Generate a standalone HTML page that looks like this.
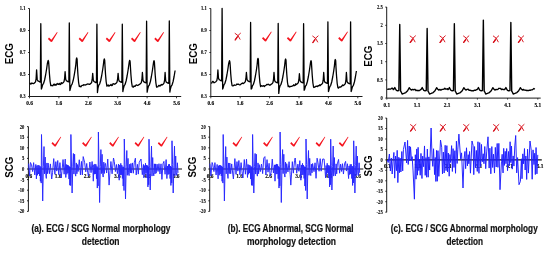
<!DOCTYPE html>
<html><head><meta charset="utf-8"><title>ECG / SCG morphology detection</title>
<style>html,body{margin:0;padding:0;background:#fff;}svg{display:block;}</style></head>
<body><svg width="550" height="253" viewBox="0 0 550 253">
<rect width="550" height="253" fill="#fff"/>
<path d="M29.5,8.5 V96.5 H181.2" fill="none" stroke="#1a1a1a" stroke-width="1"/>
<path d="M28.1,8.5 H29.5" stroke="#111" stroke-width="0.9"/>
<text x="25.5" y="10.4" text-anchor="end" font-family="Liberation Serif, serif" font-size="5.6" font-weight="bold" fill="#000" stroke="#000" stroke-width="0.1" textLength="5.74" lengthAdjust="spacingAndGlyphs">1.1</text>
<path d="M28.1,30.5 H29.5" stroke="#111" stroke-width="0.9"/>
<text x="25.5" y="32.4" text-anchor="end" font-family="Liberation Serif, serif" font-size="5.6" font-weight="bold" fill="#000" stroke="#000" stroke-width="0.1" textLength="5.74" lengthAdjust="spacingAndGlyphs">0.9</text>
<path d="M28.1,52.5 H29.5" stroke="#111" stroke-width="0.9"/>
<text x="25.5" y="54.4" text-anchor="end" font-family="Liberation Serif, serif" font-size="5.6" font-weight="bold" fill="#000" stroke="#000" stroke-width="0.1" textLength="5.74" lengthAdjust="spacingAndGlyphs">0.7</text>
<path d="M28.1,74.5 H29.5" stroke="#111" stroke-width="0.9"/>
<text x="25.5" y="76.4" text-anchor="end" font-family="Liberation Serif, serif" font-size="5.6" font-weight="bold" fill="#000" stroke="#000" stroke-width="0.1" textLength="5.74" lengthAdjust="spacingAndGlyphs">0.5</text>
<path d="M28.1,96.5 H29.5" stroke="#111" stroke-width="0.9"/>
<text x="25.5" y="98.4" text-anchor="end" font-family="Liberation Serif, serif" font-size="5.6" font-weight="bold" fill="#000" stroke="#000" stroke-width="0.1" textLength="5.74" lengthAdjust="spacingAndGlyphs">0.3</text>
<path d="M29.5,96.5 V98.3" stroke="#111" stroke-width="0.8"/>
<text x="29.5" y="104.6" text-anchor="middle" font-family="Liberation Serif, serif" font-size="5.4" font-weight="bold" fill="#000" stroke="#000" stroke-width="0.12">0.6</text>
<path d="M58.9,96.5 V98.3" stroke="#111" stroke-width="0.8"/>
<text x="58.9" y="104.6" text-anchor="middle" font-family="Liberation Serif, serif" font-size="5.4" font-weight="bold" fill="#000" stroke="#000" stroke-width="0.12">1.6</text>
<path d="M88.3,96.5 V98.3" stroke="#111" stroke-width="0.8"/>
<text x="88.3" y="104.6" text-anchor="middle" font-family="Liberation Serif, serif" font-size="5.4" font-weight="bold" fill="#000" stroke="#000" stroke-width="0.12">2.6</text>
<path d="M117.7,96.5 V98.3" stroke="#111" stroke-width="0.8"/>
<text x="117.7" y="104.6" text-anchor="middle" font-family="Liberation Serif, serif" font-size="5.4" font-weight="bold" fill="#000" stroke="#000" stroke-width="0.12">3.6</text>
<path d="M147.1,96.5 V98.3" stroke="#111" stroke-width="0.8"/>
<text x="147.1" y="104.6" text-anchor="middle" font-family="Liberation Serif, serif" font-size="5.4" font-weight="bold" fill="#000" stroke="#000" stroke-width="0.12">4.6</text>
<path d="M176.5,96.5 V98.3" stroke="#111" stroke-width="0.8"/>
<text x="176.5" y="104.6" text-anchor="middle" font-family="Liberation Serif, serif" font-size="5.4" font-weight="bold" fill="#000" stroke="#000" stroke-width="0.12">5.6</text>
<path d="M28.4,126.6 V211.4" fill="none" stroke="#1a1a1a" stroke-width="1"/>
<path d="M27,126.6 H28.4" stroke="#111" stroke-width="0.9"/>
<text x="24.4" y="128.5" text-anchor="end" font-family="Liberation Serif, serif" font-size="5.6" font-weight="bold" fill="#000" stroke="#000" stroke-width="0.1" textLength="4.59" lengthAdjust="spacingAndGlyphs">20</text>
<path d="M27,137.2 H28.4" stroke="#111" stroke-width="0.9"/>
<text x="24.4" y="139.1" text-anchor="end" font-family="Liberation Serif, serif" font-size="5.6" font-weight="bold" fill="#000" stroke="#000" stroke-width="0.1" textLength="4.59" lengthAdjust="spacingAndGlyphs">15</text>
<path d="M27,147.8 H28.4" stroke="#111" stroke-width="0.9"/>
<text x="24.4" y="149.7" text-anchor="end" font-family="Liberation Serif, serif" font-size="5.6" font-weight="bold" fill="#000" stroke="#000" stroke-width="0.1" textLength="4.59" lengthAdjust="spacingAndGlyphs">10</text>
<path d="M27,158.4 H28.4" stroke="#111" stroke-width="0.9"/>
<text x="24.4" y="160.3" text-anchor="end" font-family="Liberation Serif, serif" font-size="5.6" font-weight="bold" fill="#000" stroke="#000" stroke-width="0.1" textLength="2.3" lengthAdjust="spacingAndGlyphs">5</text>
<path d="M27,169 H28.4" stroke="#111" stroke-width="0.9"/>
<text x="24.4" y="170.9" text-anchor="end" font-family="Liberation Serif, serif" font-size="5.6" font-weight="bold" fill="#000" stroke="#000" stroke-width="0.1" textLength="2.3" lengthAdjust="spacingAndGlyphs">0</text>
<path d="M27,179.6 H28.4" stroke="#111" stroke-width="0.9"/>
<text x="24.4" y="181.5" text-anchor="end" font-family="Liberation Serif, serif" font-size="5.6" font-weight="bold" fill="#000" stroke="#000" stroke-width="0.1" textLength="3.83" lengthAdjust="spacingAndGlyphs">-5</text>
<path d="M27,190.2 H28.4" stroke="#111" stroke-width="0.9"/>
<text x="24.4" y="192.1" text-anchor="end" font-family="Liberation Serif, serif" font-size="5.6" font-weight="bold" fill="#000" stroke="#000" stroke-width="0.1" textLength="6.12" lengthAdjust="spacingAndGlyphs">-10</text>
<path d="M27,200.8 H28.4" stroke="#111" stroke-width="0.9"/>
<text x="24.4" y="202.7" text-anchor="end" font-family="Liberation Serif, serif" font-size="5.6" font-weight="bold" fill="#000" stroke="#000" stroke-width="0.1" textLength="6.12" lengthAdjust="spacingAndGlyphs">-15</text>
<path d="M27,211.4 H28.4" stroke="#111" stroke-width="0.9"/>
<text x="24.4" y="213.3" text-anchor="end" font-family="Liberation Serif, serif" font-size="5.6" font-weight="bold" fill="#000" stroke="#000" stroke-width="0.1" textLength="6.12" lengthAdjust="spacingAndGlyphs">-20</text>
<polyline points="29.8,82.74 30.5,84.03 31.2,83.87 31.9,82.96 32.6,83.39 33.3,83.7 34.6,82.9 35.5,81.8 36.1,78.8 36.6,69.8 37.2,79.4 37.8,80.8 38.6,81.2 39.5,81.8 40.35,82 40.8,23.7 41.35,89 41.9,87.7 42.7,84.7 43.6,83.3 44.6,80 45.6,75 46.6,69 47.3,64 47.8,61.7 48.2,60.4 48.6,61.7 48.9,65.5 49.4,73.5 50.1,81.5 50.8,85.7 51.5,85.46 52.2,85.67 52.9,85.76 53.6,84.36 54.3,84.09 55,85.39 55.7,84.51 56.4,84.95 57.1,83.43 57.8,84.07 58.5,84.42 59.2,83.38 59.9,84.52 60.6,84.28 61.3,82.56 61.8,83.6 63.1,82.8 64,81.7 64.6,78.7 65.1,71.7 65.7,79.3 66.3,80.7 67.1,81.1 68,81.7 68.85,81.9 69.3,22.9 69.85,90.5 70.4,88.5 71.2,85.5 72.1,84.1 73.1,80.8 74.1,75.8 75.1,69.8 75.8,64.8 76.3,59.2 76.7,57.9 77.1,59.2 77.4,66.3 77.9,74.3 78.6,82.3 79.3,86.5 79.5,85.6 80.2,86.36 80.9,86.91 81.6,85.74 82.3,85.28 83,85.48 83.7,84.61 84.4,84.79 85.1,85.01 85.8,84.95 86.5,84.31 87.2,84.14 87.9,83.95 88.6,84.22 89.4,84.4 90.7,83.6 91.6,82.5 92.2,79.5 92.7,73.3 93.3,80.1 93.9,81.5 94.7,81.9 95.6,82.5 96.45,82.7 96.9,24.2 97.45,92.5 98,88.2 98.8,85.2 99.7,83.8 100.7,80.5 101.7,75.5 102.7,69.5 103.4,64.5 103.9,60.2 104.3,58.9 104.7,60.2 105,66 105.5,74 106.2,82 106.9,86.2 107.5,85.64 108.2,84.94 108.9,86.2 109.6,85.48 110.3,85.42 111,84.39 111.7,85.63 112.4,85.18 113.1,83.63 113.8,83.8 114.5,84.29 114.8,84.1 116.1,83.3 117,82.2 117.6,79.2 118.1,73.3 118.7,79.8 119.3,81.2 120.1,81.6 121,82.2 121.85,82.4 122.3,24.2 122.85,91.5 123.4,88.7 124.2,85.7 125.1,84.3 126.1,81 127.1,76 128.1,70 128.8,65 129.3,61.6 129.7,60.3 130.1,61.6 130.4,66.5 130.9,74.5 131.6,82.5 132.3,86.7 132.7,86.94 133.4,87.1 134.1,85.92 134.8,86.41 135.5,85.88 136.2,84.97 136.9,85.23 137.6,85.52 138.3,85.21 139.1,84.6 140.4,83.8 141.3,82.7 141.9,79.7 142.4,72.5 143,80.3 143.6,81.7 144.4,82.1 145.3,82.7 146.15,82.9 146.6,21.2 147.15,92.2 147.7,89.2 148.5,86.2 149.4,84.8 150.4,81.5 151.4,76.5 152.4,70.5 153.1,65.5 153.6,62 154,60.7 154.4,62 154.7,67 155.2,75 155.9,83 156.6,87.2 157.2,86.93 157.9,86.76 158.6,85.44 159.3,85.49 160,86.17 160.7,85.15 161.4,84.4 161.8,85.1 163.1,84.3 164,83.2 164.6,80.2 165.1,72.5 165.7,80.8 166.3,82.2 167.1,82.6 168,83.2 168.85,83.4 169.3,21 169.85,92 170.4,89.2 171.2,86.2 172.1,84.8 173.1,81.5 174.1,76.5 175.1,70.5" fill="none" stroke="#000" stroke-width="1.3" stroke-linejoin="round" />
<polygon points="47.9,38.9 49,37.4 51.4,39.8 57,32.1 57.6,32.5 52.1,41.8 51,41.9" fill="#f5141e"/>
<polygon points="78.7,38.9 79.8,37.4 82.2,39.8 87.8,32.1 88.4,32.5 82.9,41.8 81.8,41.9" fill="#f5141e"/>
<polygon points="105.8,38.9 106.9,37.4 109.3,39.8 114.9,32.1 115.5,32.5 110,41.8 108.9,41.9" fill="#f5141e"/>
<polygon points="131,38.9 132.1,37.4 134.5,39.8 140.1,32.1 140.7,32.5 135.2,41.8 134.1,41.9" fill="#f5141e"/>
<polygon points="154.3,38.9 155.4,37.4 157.8,39.8 163.4,32.1 164,32.5 158.5,41.8 157.4,41.9" fill="#f5141e"/>
<path d="M28.4,169 H182" stroke="#111" stroke-width="1.1"/>
<text x="28.8" y="177.5" text-anchor="middle" font-family="Liberation Serif, serif" font-size="5.4" font-weight="bold" fill="#000" stroke="#000" stroke-width="0.12">0.6</text>
<text x="58.2" y="177.5" text-anchor="middle" font-family="Liberation Serif, serif" font-size="5.4" font-weight="bold" fill="#000" stroke="#000" stroke-width="0.12">1.6</text>
<text x="87.2" y="177.5" text-anchor="middle" font-family="Liberation Serif, serif" font-size="5.4" font-weight="bold" fill="#000" stroke="#000" stroke-width="0.12">2.6</text>
<text x="117.3" y="177.5" text-anchor="middle" font-family="Liberation Serif, serif" font-size="5.4" font-weight="bold" fill="#000" stroke="#000" stroke-width="0.12">3.6</text>
<text x="147.4" y="177.5" text-anchor="middle" font-family="Liberation Serif, serif" font-size="5.4" font-weight="bold" fill="#000" stroke="#000" stroke-width="0.12">4.6</text>
<text x="176.2" y="177.5" text-anchor="middle" font-family="Liberation Serif, serif" font-size="5.4" font-weight="bold" fill="#000" stroke="#000" stroke-width="0.12">5.6</text>
<polyline points="28.6,163.64 29.6,175.91 30.4,162.5 31.54,164.83 32.63,171.59 33.63,162.63 34.78,174.97 35.83,164.44 36.4,178.85 36.9,165.73 37.5,175.26 38,165.09 38.5,173.96 39,165.34 39.6,175.98 40,166.06 40.4,181.27 40.9,167.11 41.2,183.07 41.5,134.5 42.1,165.84 42.7,201 43.4,166.18 44,146.56 44.5,173.83 45.2,157.09 45.7,173.13 46.3,178.41 46.9,162.94 47.5,173.64 48.1,163.05 49.39,173.78 50.4,163.91 51.7,179 52.59,172.32 53.73,158.6 54.87,174.27 55.84,161.64 56.75,171.11 57.73,160.5 58.76,174.75 59.95,162.63 61.2,178 61.88,171.82 63.05,159.54 64.14,174.2 65.24,159.09 65.8,177.48 66.3,164.45 66.9,174.28 67.4,164.93 67.9,173.02 68.4,165.44 69,179.06 69.4,166.51 69.8,185.19 70.3,166.92 70.6,185.52 70.9,134.5 71.5,165.01 72.1,193 72.8,166.67 73.4,153.46 73.9,174.06 74.6,154.21 75.1,172.77 75.7,176.13 76.3,162.92 76.9,173.77 77.5,164.58 78.12,171.51 79.29,159.76 80.44,174.92 81.45,161.43 82.35,174.88 83.2,156.6 84.59,162.18 85.74,171.84 86.73,163.44 87.7,172.68 88.5,176 89.88,162.02 91.05,172.68 92.1,161.54 93.01,172.76 93.3,181.18 93.8,164.74 94.4,174.16 94.9,163.96 95.4,173.93 95.9,164.42 96.5,178.7 96.9,166.36 97.3,188.06 97.8,167.39 98.1,185.89 98.4,132 99,164.64 99.6,202.5 100.3,166.54 100.9,149.6 101.4,173.61 102.1,154.29 102.6,173.38 103.2,177.06 103.8,162.14 104.4,173.46 105,163.69 105.48,163.38 106.62,173.03 107.74,159.07 109.1,185.1 109.88,173.05 110.91,161.53 112.1,173.8 113.5,158 114.26,161.36 115.41,171.55 116.44,164.53 117.36,173.68 118.53,164 119.2,180.19 119.7,164.96 120.3,174.73 120.8,163.36 121.3,174.88 121.8,165.15 122.4,178.44 122.8,166.67 123.2,186.05 123.7,166.92 124,190.54 124.3,139 124.9,164.52 125.5,199 126.2,166.37 126.8,150.53 127.3,175.31 128,158.36 128.5,172.83 129.1,175.6 129.7,164.18 130.3,172.88 130.9,163.52 131.47,173.06 132.43,162.93 133.34,173.22 134.24,162.85 135.4,158.2 136.21,174.94 137.41,164.32 138.32,174.12 139.26,162.26 141,159 142.32,174.68 143.43,164.42 143.9,177.89 144.4,165.55 145,174.56 145.5,163.29 146,172.93 146.5,165.19 147.1,177.98 147.5,165.56 147.9,186.9 148.4,166.72 148.7,184.76 149,139.2 149.6,165.25 150.2,190 150.9,166.27 151.5,146.04 152,176.09 152.7,157.55 153.2,172.32 153.8,175.84 154.4,163.87 155,173.84 155.6,163.92 156.1,173.21 157.08,164.16 158.05,171.44 158.97,163.69 159.96,174.04 161.01,163.84 161.92,179.4 162.98,163.77 163.9,161.4 165.09,174.28 166.14,159.58 166.9,178.55 167.4,165.99 168,174.63 168.5,164.42 169,174.02 169.5,164.28 170.1,178.55 170.5,166.05 170.9,185.45 171.4,166.89 171.7,182.94 172,140.8 172.6,164.38 173.2,193 173.9,165.7 174.5,146.13 175,175.65 175.7,156.03 176.2,172.72 176.8,175.37 177.4,162.79 178,172.89" fill="none" stroke="#2626ff" stroke-width="0.95" stroke-linejoin="round" />
<polygon points="51.5,143.5 52.6,142 55,144.4 60.6,136.7 61.2,137.1 55.7,146.4 54.6,146.5" fill="#f5141e"/>
<polygon points="82.1,143.5 83.2,142 85.6,144.4 91.2,136.7 91.8,137.1 86.3,146.4 85.2,146.5" fill="#f5141e"/>
<polygon points="109.2,143.5 110.3,142 112.7,144.4 118.3,136.7 118.9,137.1 113.4,146.4 112.3,146.5" fill="#f5141e"/>
<polygon points="134.6,143.5 135.7,142 138.1,144.4 143.7,136.7 144.3,137.1 138.8,146.4 137.7,146.5" fill="#f5141e"/>
<polygon points="157.8,143.5 158.9,142 161.3,144.4 166.9,136.7 167.5,137.1 162,146.4 160.9,146.5" fill="#f5141e"/>
<text transform="translate(9.4,53.7) rotate(-90)" text-anchor="middle" dominant-baseline="central" font-family="Liberation Sans, sans-serif" font-size="10.1" font-weight="bold" fill="#000" textLength="21" lengthAdjust="spacingAndGlyphs">ECG</text>
<text transform="translate(9.6,167.3) rotate(-90)" text-anchor="middle" dominant-baseline="central" font-family="Liberation Sans, sans-serif" font-size="10.1" font-weight="bold" fill="#000" textLength="21" lengthAdjust="spacingAndGlyphs">SCG</text>
<path d="M210.8,8.5 V96.5 H362.5" fill="none" stroke="#1a1a1a" stroke-width="1"/>
<path d="M209.4,8.5 H210.8" stroke="#111" stroke-width="0.9"/>
<text x="206.8" y="10.4" text-anchor="end" font-family="Liberation Serif, serif" font-size="5.6" font-weight="bold" fill="#000" stroke="#000" stroke-width="0.1" textLength="5.74" lengthAdjust="spacingAndGlyphs">1.1</text>
<path d="M209.4,30.5 H210.8" stroke="#111" stroke-width="0.9"/>
<text x="206.8" y="32.4" text-anchor="end" font-family="Liberation Serif, serif" font-size="5.6" font-weight="bold" fill="#000" stroke="#000" stroke-width="0.1" textLength="5.74" lengthAdjust="spacingAndGlyphs">0.9</text>
<path d="M209.4,52.5 H210.8" stroke="#111" stroke-width="0.9"/>
<text x="206.8" y="54.4" text-anchor="end" font-family="Liberation Serif, serif" font-size="5.6" font-weight="bold" fill="#000" stroke="#000" stroke-width="0.1" textLength="5.74" lengthAdjust="spacingAndGlyphs">0.7</text>
<path d="M209.4,74.5 H210.8" stroke="#111" stroke-width="0.9"/>
<text x="206.8" y="76.4" text-anchor="end" font-family="Liberation Serif, serif" font-size="5.6" font-weight="bold" fill="#000" stroke="#000" stroke-width="0.1" textLength="5.74" lengthAdjust="spacingAndGlyphs">0.5</text>
<path d="M209.4,96.5 H210.8" stroke="#111" stroke-width="0.9"/>
<text x="206.8" y="98.4" text-anchor="end" font-family="Liberation Serif, serif" font-size="5.6" font-weight="bold" fill="#000" stroke="#000" stroke-width="0.1" textLength="5.74" lengthAdjust="spacingAndGlyphs">0.3</text>
<path d="M210.8,96.5 V98.3" stroke="#111" stroke-width="0.8"/>
<text x="210.8" y="104.6" text-anchor="middle" font-family="Liberation Serif, serif" font-size="5.4" font-weight="bold" fill="#000" stroke="#000" stroke-width="0.12">0.6</text>
<path d="M240.2,96.5 V98.3" stroke="#111" stroke-width="0.8"/>
<text x="240.2" y="104.6" text-anchor="middle" font-family="Liberation Serif, serif" font-size="5.4" font-weight="bold" fill="#000" stroke="#000" stroke-width="0.12">1.6</text>
<path d="M269.6,96.5 V98.3" stroke="#111" stroke-width="0.8"/>
<text x="269.6" y="104.6" text-anchor="middle" font-family="Liberation Serif, serif" font-size="5.4" font-weight="bold" fill="#000" stroke="#000" stroke-width="0.12">2.6</text>
<path d="M299,96.5 V98.3" stroke="#111" stroke-width="0.8"/>
<text x="299" y="104.6" text-anchor="middle" font-family="Liberation Serif, serif" font-size="5.4" font-weight="bold" fill="#000" stroke="#000" stroke-width="0.12">3.6</text>
<path d="M328.4,96.5 V98.3" stroke="#111" stroke-width="0.8"/>
<text x="328.4" y="104.6" text-anchor="middle" font-family="Liberation Serif, serif" font-size="5.4" font-weight="bold" fill="#000" stroke="#000" stroke-width="0.12">4.6</text>
<path d="M357.8,96.5 V98.3" stroke="#111" stroke-width="0.8"/>
<text x="357.8" y="104.6" text-anchor="middle" font-family="Liberation Serif, serif" font-size="5.4" font-weight="bold" fill="#000" stroke="#000" stroke-width="0.12">5.6</text>
<path d="M209.7,126.6 V211.4" fill="none" stroke="#1a1a1a" stroke-width="1"/>
<path d="M208.3,126.6 H209.7" stroke="#111" stroke-width="0.9"/>
<text x="205.7" y="128.5" text-anchor="end" font-family="Liberation Serif, serif" font-size="5.6" font-weight="bold" fill="#000" stroke="#000" stroke-width="0.1" textLength="4.59" lengthAdjust="spacingAndGlyphs">20</text>
<path d="M208.3,137.2 H209.7" stroke="#111" stroke-width="0.9"/>
<text x="205.7" y="139.1" text-anchor="end" font-family="Liberation Serif, serif" font-size="5.6" font-weight="bold" fill="#000" stroke="#000" stroke-width="0.1" textLength="4.59" lengthAdjust="spacingAndGlyphs">15</text>
<path d="M208.3,147.8 H209.7" stroke="#111" stroke-width="0.9"/>
<text x="205.7" y="149.7" text-anchor="end" font-family="Liberation Serif, serif" font-size="5.6" font-weight="bold" fill="#000" stroke="#000" stroke-width="0.1" textLength="4.59" lengthAdjust="spacingAndGlyphs">10</text>
<path d="M208.3,158.4 H209.7" stroke="#111" stroke-width="0.9"/>
<text x="205.7" y="160.3" text-anchor="end" font-family="Liberation Serif, serif" font-size="5.6" font-weight="bold" fill="#000" stroke="#000" stroke-width="0.1" textLength="2.3" lengthAdjust="spacingAndGlyphs">5</text>
<path d="M208.3,169 H209.7" stroke="#111" stroke-width="0.9"/>
<text x="205.7" y="170.9" text-anchor="end" font-family="Liberation Serif, serif" font-size="5.6" font-weight="bold" fill="#000" stroke="#000" stroke-width="0.1" textLength="2.3" lengthAdjust="spacingAndGlyphs">0</text>
<path d="M208.3,179.6 H209.7" stroke="#111" stroke-width="0.9"/>
<text x="205.7" y="181.5" text-anchor="end" font-family="Liberation Serif, serif" font-size="5.6" font-weight="bold" fill="#000" stroke="#000" stroke-width="0.1" textLength="3.83" lengthAdjust="spacingAndGlyphs">-5</text>
<path d="M208.3,190.2 H209.7" stroke="#111" stroke-width="0.9"/>
<text x="205.7" y="192.1" text-anchor="end" font-family="Liberation Serif, serif" font-size="5.6" font-weight="bold" fill="#000" stroke="#000" stroke-width="0.1" textLength="6.12" lengthAdjust="spacingAndGlyphs">-10</text>
<path d="M208.3,200.8 H209.7" stroke="#111" stroke-width="0.9"/>
<text x="205.7" y="202.7" text-anchor="end" font-family="Liberation Serif, serif" font-size="5.6" font-weight="bold" fill="#000" stroke="#000" stroke-width="0.1" textLength="6.12" lengthAdjust="spacingAndGlyphs">-15</text>
<path d="M208.3,211.4 H209.7" stroke="#111" stroke-width="0.9"/>
<text x="205.7" y="213.3" text-anchor="end" font-family="Liberation Serif, serif" font-size="5.6" font-weight="bold" fill="#000" stroke="#000" stroke-width="0.1" textLength="6.12" lengthAdjust="spacingAndGlyphs">-20</text>
<polyline points="211.1,83.02 211.8,83.01 212.5,81.4 213.2,81.45 213.9,82.8 214.6,82.5 215.9,81.7 216.8,80.6 217.4,77.6 217.9,70 218.5,78.2 219.1,79.6 219.9,80 220.8,80.6 221.65,80.8 222.1,8.3 222.65,89 223.2,87.7 224,84.7 224.9,83.3 225.9,80 226.9,75 227.9,69 228.6,64 229.1,62 229.5,60.7 229.9,62 230.2,65.5 230.7,73.5 231.4,81.5 232.1,85.7 232.8,85.97 233.5,85.7 234.2,84.9 234.9,85.28 235.6,85.13 236.3,84.93 237,84.02 237.7,84.35 238.4,84.13 239.1,84.57 239.8,84.91 240.5,84.68 241.2,83.79 241.9,83.46 242.6,82.99 243.1,83.6 244.4,82.8 245.3,81.7 245.9,78.7 246.4,72.5 247,79.3 247.6,80.7 248.4,81.1 249.3,81.7 250.15,81.9 250.6,22.5 251.15,89 251.7,88.7 252.5,85.7 253.4,84.3 254.4,81 255.4,76 256.4,70 257.1,65 257.6,59.6 258,58.3 258.4,59.6 258.7,66.5 259.2,74.5 259.9,82.5 260.6,86.7 260.8,85.82 261.5,85.64 262.2,86.26 262.9,85.83 263.6,85.77 264.3,86.53 265,85.7 265.7,85.6 266.4,84.85 267.1,84.3 267.8,84.67 268.5,84.17 269.2,84.67 269.9,85.39 270.6,84.64 270.7,84.6 272,83.8 272.9,82.7 273.5,79.7 274,72.5 274.6,80.3 275.2,81.7 276,82.1 276.9,82.7 277.75,82.9 278.2,23.5 278.75,93.4 279.3,88.7 280.1,85.7 281,84.3 282,81 283,76 284,70 284.7,65 285.2,60.3 285.6,59 286,60.3 286.3,66.5 286.8,74.5 287.5,82.5 288.2,86.7 288.8,85.95 289.5,87.01 290.2,86.63 290.9,86.3 291.6,86.4 292.3,85.93 293,85.76 293.7,84.77 294.4,85.68 295.1,85.44 295.8,83.78 296.1,84.6 297.4,83.8 298.3,82.7 298.9,79.7 299.4,73.7 300,80.3 300.6,81.7 301.4,82.1 302.3,82.7 303.15,82.9 303.6,23.7 304.15,90.3 304.7,89.2 305.5,86.2 306.4,84.8 307.4,81.5 308.4,76.5 309.4,70.5 310.1,65.5 310.6,62 311,60.7 311.4,62 311.7,67 312.2,75 312.9,83 313.6,87.2 314,87.52 314.7,87.2 315.4,86.5 316.1,86.37 316.8,86.05 317.5,86.59 318.2,85.58 318.9,85.93 319.6,84.82 320.3,85.52 320.4,85.1 321.7,84.3 322.6,83.2 323.2,80.2 323.7,72.5 324.3,80.8 324.9,82.2 325.7,82.6 326.6,83.2 327.45,83.4 327.9,21.8 328.45,91.5 329,89.7 329.8,86.7 330.7,85.3 331.7,82 332.7,77 333.7,71 334.4,66 334.9,60.8 335.3,59.5 335.7,60.8 336,67.5 336.5,75.5 337.2,83.5 337.9,87.7 338.5,88.14 339.2,87.03 339.9,86.9 340.6,87.21 341.3,86.53 342,85.78 342.7,84.98 343.1,85.6 344.4,84.8 345.3,83.7 345.9,80.7 346.4,72.5 347,81.3 347.6,82.7 348.4,83.1 349.3,83.7 350.15,83.9 350.6,21.8 351.15,91.5 351.7,89.7 352.5,86.7 353.4,85.3 354.4,82 355.4,77 356.4,71" fill="none" stroke="#000" stroke-width="1.3" stroke-linejoin="round" />
<path d="M235.16,33.34 Q238.33,34.62 240.09,39.24 M240.44,33.17 Q238.15,34.36 235.16,39.94" fill="none" stroke="#d8101a" stroke-width="0.95" stroke-linecap="round"/><path d="M237.27,37.13 L235.34,39.77" fill="none" stroke="#d8101a" stroke-width="1.35" stroke-linecap="round"/>
<polygon points="262,38.4 263.1,36.9 265.5,39.3 271.1,31.6 271.7,32 266.2,41.3 265.1,41.4" fill="#f5141e"/>
<polygon points="286.9,38.4 288,36.9 290.4,39.3 296,31.6 296.6,32 291.1,41.3 290,41.4" fill="#f5141e"/>
<path d="M312.76,36.04 Q315.93,37.32 317.69,41.94 M318.04,35.87 Q315.75,37.06 312.76,42.64" fill="none" stroke="#d8101a" stroke-width="0.95" stroke-linecap="round"/><path d="M314.87,39.83 L312.94,42.47" fill="none" stroke="#d8101a" stroke-width="1.35" stroke-linecap="round"/>
<polygon points="338.2,38.4 339.3,36.9 341.7,39.3 347.3,31.6 347.9,32 342.4,41.3 341.3,41.4" fill="#f5141e"/>
<path d="M209.7,169 H363.3" stroke="#111" stroke-width="1.1"/>
<text x="210.1" y="177.5" text-anchor="middle" font-family="Liberation Serif, serif" font-size="5.4" font-weight="bold" fill="#000" stroke="#000" stroke-width="0.12">0.6</text>
<text x="239.5" y="177.5" text-anchor="middle" font-family="Liberation Serif, serif" font-size="5.4" font-weight="bold" fill="#000" stroke="#000" stroke-width="0.12">1.6</text>
<text x="268.5" y="177.5" text-anchor="middle" font-family="Liberation Serif, serif" font-size="5.4" font-weight="bold" fill="#000" stroke="#000" stroke-width="0.12">2.6</text>
<text x="298.6" y="177.5" text-anchor="middle" font-family="Liberation Serif, serif" font-size="5.4" font-weight="bold" fill="#000" stroke="#000" stroke-width="0.12">3.6</text>
<text x="328.7" y="177.5" text-anchor="middle" font-family="Liberation Serif, serif" font-size="5.4" font-weight="bold" fill="#000" stroke="#000" stroke-width="0.12">4.6</text>
<text x="357.5" y="177.5" text-anchor="middle" font-family="Liberation Serif, serif" font-size="5.4" font-weight="bold" fill="#000" stroke="#000" stroke-width="0.12">5.6</text>
<polyline points="209.9,163.64 210.9,175.91 212.1,162.5 212.84,164.83 213.93,171.59 214.93,162.63 216.08,174.97 217.13,164.44 218.1,178.85 218.6,165.73 219.2,175.26 219.7,165.09 220.2,173.96 220.7,165.34 221.3,175.98 221.7,166.06 222.1,181.27 222.6,167.11 222.9,183.07 223.2,134.5 223.8,165.84 224.4,201 225.1,166.18 225.7,146.56 226.2,173.83 226.9,157.09 227.4,173.13 228,178.41 228.6,162.94 229.2,173.64 229.8,163.05 230.69,173.78 231.7,163.91 232.76,174.12 233.4,179 234.87,158.6 236.01,174.27 236.98,161.64 237.88,171.11 238.86,160.5 239.9,174.75 241.08,162.63 242.05,171.79 242.9,178 244.31,159.54 245.4,174.2 246.5,159.09 247.5,177.48 248,164.45 248.6,174.28 249.1,164.93 249.6,173.02 250.1,165.44 250.7,179.06 251.1,166.51 251.5,185.19 252,166.92 252.3,185.52 252.6,134.5 253.2,165.01 253.8,193 254.5,166.67 255.1,153.46 255.6,174.06 256.3,154.21 256.8,172.77 257.4,176.13 258,162.92 258.6,173.77 259.2,164.58 260.32,171.6 261.46,164.05 262.66,173.63 263.72,158.12 264.9,156.6 265.88,174.73 267.04,159.63 268.01,172.17 269.09,163.31 270.2,176 271.2,172.42 272.28,159.12 273.45,173.01 274.51,164.88 275,181.18 275.5,164.74 276.1,174.16 276.6,163.96 277.1,173.93 277.6,164.42 278.2,178.7 278.6,166.36 279,188.06 279.5,167.39 279.8,185.89 280.1,132 280.7,164.64 281.3,202.5 282,166.54 282.6,149.6 283.1,173.61 283.8,154.29 284.3,173.38 284.9,177.06 285.5,162.14 286.1,173.46 286.7,163.69 287.94,171.99 289.07,161.7 290.2,174.65 290.8,185.1 292.33,161.67 293.37,173.13 294.55,160.46 295.2,158 296.71,173.24 297.86,164.11 298.9,171.29 299.82,160.65 300.9,180.19 301.4,164.96 302,174.73 302.5,163.36 303,174.88 303.5,165.15 304.1,178.44 304.5,166.67 304.9,186.05 305.4,166.92 305.7,190.54 306,139 306.6,164.52 307.2,199 307.9,166.37 308.5,150.53 309,175.31 309.7,158.36 310.2,172.83 310.8,175.6 311.4,164.18 312,172.88 312.6,163.52 314.01,171.65 315.06,162.8 316.06,178.32 317.1,158.2 318,162.85 319.05,171.26 320.19,158.68 321.17,171.16 322.7,159 324.11,159.08 325.09,171.6 325.6,177.89 326.1,165.55 326.7,174.56 327.2,163.29 327.7,172.93 328.2,165.19 328.8,177.98 329.2,165.56 329.6,186.9 330.1,166.72 330.4,184.76 330.7,139.2 331.3,165.25 331.9,190 332.6,166.27 333.2,146.04 333.7,176.09 334.4,157.55 334.9,172.32 335.5,175.84 336.1,163.87 336.7,173.84 337.3,163.92 338.59,159.39 339.59,173.21 340.57,164.16 341.54,171.44 342.45,163.69 343.45,174.04 344.5,163.84 345.6,161.4 346.38,171.06 347.44,163.77 348.6,178.55 349.1,165.99 349.7,174.63 350.2,164.42 350.7,174.02 351.2,164.28 351.8,178.55 352.2,166.05 352.6,185.45 353.1,166.89 353.4,182.94 353.7,140.8 354.3,164.38 354.9,193 355.6,165.7 356.2,146.13 356.7,175.65 357.4,156.03 357.9,172.72 358.5,175.37 359.1,162.79 359.7,172.89" fill="none" stroke="#2626ff" stroke-width="0.95" stroke-linejoin="round" />
<polygon points="232.5,143.5 233.6,142 236,144.4 241.6,136.7 242.2,137.1 236.7,146.4 235.6,146.5" fill="#f5141e"/>
<polygon points="263.1,143.5 264.2,142 266.6,144.4 272.2,136.7 272.8,137.1 267.3,146.4 266.2,146.5" fill="#f5141e"/>
<polygon points="290.2,143.5 291.3,142 293.7,144.4 299.3,136.7 299.9,137.1 294.4,146.4 293.3,146.5" fill="#f5141e"/>
<polygon points="315.6,143.5 316.7,142 319.1,144.4 324.7,136.7 325.3,137.1 319.8,146.4 318.7,146.5" fill="#f5141e"/>
<polygon points="338.8,143.5 339.9,142 342.3,144.4 347.9,136.7 348.5,137.1 343,146.4 341.9,146.5" fill="#f5141e"/>
<text transform="translate(193.3,53.7) rotate(-90)" text-anchor="middle" dominant-baseline="central" font-family="Liberation Sans, sans-serif" font-size="10.1" font-weight="bold" fill="#000" textLength="21" lengthAdjust="spacingAndGlyphs">ECG</text>
<text transform="translate(192.8,167.1) rotate(-90)" text-anchor="middle" dominant-baseline="central" font-family="Liberation Sans, sans-serif" font-size="10.1" font-weight="bold" fill="#000" textLength="21" lengthAdjust="spacingAndGlyphs">SCG</text>
<path d="M386.7,7 V98.1 H540.7" fill="none" stroke="#1a1a1a" stroke-width="1"/>
<path d="M385.3,7.1 H386.7" stroke="#111" stroke-width="0.9"/>
<text x="382.7" y="9" text-anchor="end" font-family="Liberation Serif, serif" font-size="5.6" font-weight="bold" fill="#000" stroke="#000" stroke-width="0.1" textLength="5.74" lengthAdjust="spacingAndGlyphs">2.5</text>
<path d="M385.3,25.3 H386.7" stroke="#111" stroke-width="0.9"/>
<text x="382.7" y="27.2" text-anchor="end" font-family="Liberation Serif, serif" font-size="5.6" font-weight="bold" fill="#000" stroke="#000" stroke-width="0.1" textLength="2.3" lengthAdjust="spacingAndGlyphs">2</text>
<path d="M385.3,43.5 H386.7" stroke="#111" stroke-width="0.9"/>
<text x="382.7" y="45.4" text-anchor="end" font-family="Liberation Serif, serif" font-size="5.6" font-weight="bold" fill="#000" stroke="#000" stroke-width="0.1" textLength="5.74" lengthAdjust="spacingAndGlyphs">1.5</text>
<path d="M385.3,61.7 H386.7" stroke="#111" stroke-width="0.9"/>
<text x="382.7" y="63.6" text-anchor="end" font-family="Liberation Serif, serif" font-size="5.6" font-weight="bold" fill="#000" stroke="#000" stroke-width="0.1" textLength="2.3" lengthAdjust="spacingAndGlyphs">1</text>
<path d="M385.3,79.9 H386.7" stroke="#111" stroke-width="0.9"/>
<text x="382.7" y="81.8" text-anchor="end" font-family="Liberation Serif, serif" font-size="5.6" font-weight="bold" fill="#000" stroke="#000" stroke-width="0.1" textLength="5.74" lengthAdjust="spacingAndGlyphs">0.5</text>
<path d="M385.3,98.1 H386.7" stroke="#111" stroke-width="0.9"/>
<text x="382.7" y="100" text-anchor="end" font-family="Liberation Serif, serif" font-size="5.6" font-weight="bold" fill="#000" stroke="#000" stroke-width="0.1" textLength="2.3" lengthAdjust="spacingAndGlyphs">0</text>
<path d="M386.8,98.1 V99.6" stroke="#111" stroke-width="0.8"/>
<text x="386.8" y="107.1" text-anchor="middle" font-family="Liberation Serif, serif" font-size="5.4" font-weight="bold" fill="#000" stroke="#000" stroke-width="0.12">0.1</text>
<path d="M417,98.1 V99.6" stroke="#111" stroke-width="0.8"/>
<text x="417" y="107.1" text-anchor="middle" font-family="Liberation Serif, serif" font-size="5.4" font-weight="bold" fill="#000" stroke="#000" stroke-width="0.12">1.1</text>
<path d="M447.2,98.1 V99.6" stroke="#111" stroke-width="0.8"/>
<text x="447.2" y="107.1" text-anchor="middle" font-family="Liberation Serif, serif" font-size="5.4" font-weight="bold" fill="#000" stroke="#000" stroke-width="0.12">2.1</text>
<path d="M477.4,98.1 V99.6" stroke="#111" stroke-width="0.8"/>
<text x="477.4" y="107.1" text-anchor="middle" font-family="Liberation Serif, serif" font-size="5.4" font-weight="bold" fill="#000" stroke="#000" stroke-width="0.12">3.1</text>
<path d="M507.6,98.1 V99.6" stroke="#111" stroke-width="0.8"/>
<text x="507.6" y="107.1" text-anchor="middle" font-family="Liberation Serif, serif" font-size="5.4" font-weight="bold" fill="#000" stroke="#000" stroke-width="0.12">4.1</text>
<path d="M537.8,98.1 V99.6" stroke="#111" stroke-width="0.8"/>
<text x="537.8" y="107.1" text-anchor="middle" font-family="Liberation Serif, serif" font-size="5.4" font-weight="bold" fill="#000" stroke="#000" stroke-width="0.12">5.1</text>
<path d="M386.7,118 V212.3" fill="none" stroke="#1a1a1a" stroke-width="1"/>
<path d="M385.3,118.1 H386.7" stroke="#111" stroke-width="0.9"/>
<text x="382.7" y="120" text-anchor="end" font-family="Liberation Serif, serif" font-size="5.6" font-weight="bold" fill="#000" stroke="#000" stroke-width="0.1" textLength="4.59" lengthAdjust="spacingAndGlyphs">20</text>
<path d="M385.3,128.55 H386.7" stroke="#111" stroke-width="0.9"/>
<text x="382.7" y="130.45" text-anchor="end" font-family="Liberation Serif, serif" font-size="5.6" font-weight="bold" fill="#000" stroke="#000" stroke-width="0.1" textLength="4.59" lengthAdjust="spacingAndGlyphs">15</text>
<path d="M385.3,139 H386.7" stroke="#111" stroke-width="0.9"/>
<text x="382.7" y="140.9" text-anchor="end" font-family="Liberation Serif, serif" font-size="5.6" font-weight="bold" fill="#000" stroke="#000" stroke-width="0.1" textLength="4.59" lengthAdjust="spacingAndGlyphs">10</text>
<path d="M385.3,149.45 H386.7" stroke="#111" stroke-width="0.9"/>
<text x="382.7" y="151.35" text-anchor="end" font-family="Liberation Serif, serif" font-size="5.6" font-weight="bold" fill="#000" stroke="#000" stroke-width="0.1" textLength="2.3" lengthAdjust="spacingAndGlyphs">5</text>
<path d="M385.3,159.9 H386.7" stroke="#111" stroke-width="0.9"/>
<text x="382.7" y="161.8" text-anchor="end" font-family="Liberation Serif, serif" font-size="5.6" font-weight="bold" fill="#000" stroke="#000" stroke-width="0.1" textLength="2.3" lengthAdjust="spacingAndGlyphs">0</text>
<path d="M385.3,170.35 H386.7" stroke="#111" stroke-width="0.9"/>
<text x="382.7" y="172.25" text-anchor="end" font-family="Liberation Serif, serif" font-size="5.6" font-weight="bold" fill="#000" stroke="#000" stroke-width="0.1" textLength="3.83" lengthAdjust="spacingAndGlyphs">-5</text>
<path d="M385.3,180.8 H386.7" stroke="#111" stroke-width="0.9"/>
<text x="382.7" y="182.7" text-anchor="end" font-family="Liberation Serif, serif" font-size="5.6" font-weight="bold" fill="#000" stroke="#000" stroke-width="0.1" textLength="6.12" lengthAdjust="spacingAndGlyphs">-10</text>
<path d="M385.3,191.25 H386.7" stroke="#111" stroke-width="0.9"/>
<text x="382.7" y="193.15" text-anchor="end" font-family="Liberation Serif, serif" font-size="5.6" font-weight="bold" fill="#000" stroke="#000" stroke-width="0.1" textLength="6.12" lengthAdjust="spacingAndGlyphs">-15</text>
<path d="M385.3,201.7 H386.7" stroke="#111" stroke-width="0.9"/>
<text x="382.7" y="203.6" text-anchor="end" font-family="Liberation Serif, serif" font-size="5.6" font-weight="bold" fill="#000" stroke="#000" stroke-width="0.1" textLength="6.12" lengthAdjust="spacingAndGlyphs">-20</text>
<path d="M385.3,212.15 H386.7" stroke="#111" stroke-width="0.9"/>
<text x="382.7" y="214.05" text-anchor="end" font-family="Liberation Serif, serif" font-size="5.6" font-weight="bold" fill="#000" stroke="#000" stroke-width="0.1" textLength="6.12" lengthAdjust="spacingAndGlyphs">-25</text>
<polyline points="387.2,89.29 388.1,89.41 389,88.97 389.9,89.08 390.8,88.99 391.7,88.28 392.6,88.26 393.3,89.6 394,89 394.8,87.6 395.6,89.2 396.4,90.3 397.6,90.8 398.85,90.6 399.75,24.4 400.6,91.1 401.1,91.8 402.1,94 403.8,93.4 405.8,92.6 407.6,90.8 409.2,87.7 410.2,89 411.3,90 412.6,89.4 413.3,89.78 414.2,89.33 415.1,89.55 416,90.68 416.9,90.22 417.8,90.77 418.7,90.37 419.6,90.52 420.5,89.81 420.7,89.6 421.4,89 422.2,87.6 423,89.2 423.8,90.3 425,90.8 426.25,90.6 427.15,28.4 428,91.1 428.5,91.8 429.5,94 431.2,93.4 433.2,92.6 435,90.8 436.6,87.7 437.6,89 438.7,90 440,89.4 440.3,89.97 441.2,90 442.1,89.34 443,89.39 443.9,89.13 444.8,88.3 445.7,89.11 446.6,88.96 447.5,88.74 447.9,89.6 448.6,89 449.4,87.6 450.2,89.2 451,90.3 452.2,90.8 453.45,90.6 454.35,23.7 455.2,91.1 455.7,91.8 456.7,94 458.4,93.4 460.4,92.6 462.2,90.8 463.8,87.7 464.8,89 465.9,90 467.2,89.4 468.2,89.1 469.1,90.34 470,90.09 470.9,90.54 471.8,90.83 472.7,90.65 473.6,90.84 474.5,90.08 475.4,90.38 476.3,89.72 476.9,89.6 477.6,89 478.4,87.6 479.2,89.2 480,90.3 481.2,90.8 482.45,90.6 483.35,20.1 484.2,91.1 484.7,91.8 485.7,94 487.4,93.4 489.4,92.6 491.2,90.8 492.8,87.7 493.8,89 494.9,90 496.2,89.4 497,89.59 497.9,89.36 498.8,88.33 499.7,88.37 500.6,88.53 501.5,89.57 502.4,89.13 503.3,89.59 504.2,89.45 504.4,89.6 505.1,89 505.9,87.6 506.7,89.2 507.5,90.3 508.7,90.8 509.95,90.6 510.85,22.5 511.7,91.1 512.2,91.8 513.2,94 514.9,93.4 516.9,92.6 518.7,90.8 520.3,87.7 521.3,89 522.4,90 523.7,89.4 524,90.16 524.9,90.17 525.8,90.21 526.7,90.5 527.6,90.42 528.5,90.66 529.4,90.2 530.3,90.26 531.2,89.92 532.1,89.84 533,89.25 533.9,88.49 534.8,89.25" fill="none" stroke="#000" stroke-width="1.4" stroke-linejoin="round" />
<path d="M410.16,35.94 Q413.33,37.22 415.09,41.84 M415.44,35.77 Q413.15,36.96 410.16,42.54" fill="none" stroke="#d8101a" stroke-width="0.95" stroke-linecap="round"/><path d="M412.27,39.73 L410.34,42.37" fill="none" stroke="#d8101a" stroke-width="1.35" stroke-linecap="round"/>
<path d="M439.96,35.94 Q443.13,37.22 444.89,41.84 M445.24,35.77 Q442.95,36.96 439.96,42.54" fill="none" stroke="#d8101a" stroke-width="0.95" stroke-linecap="round"/><path d="M442.07,39.73 L440.14,42.37" fill="none" stroke="#d8101a" stroke-width="1.35" stroke-linecap="round"/>
<path d="M463.56,35.94 Q466.73,37.22 468.49,41.84 M468.84,35.77 Q466.55,36.96 463.56,42.54" fill="none" stroke="#d8101a" stroke-width="0.95" stroke-linecap="round"/><path d="M465.67,39.73 L463.74,42.37" fill="none" stroke="#d8101a" stroke-width="1.35" stroke-linecap="round"/>
<path d="M493.36,35.94 Q496.53,37.22 498.29,41.84 M498.64,35.77 Q496.35,36.96 493.36,42.54" fill="none" stroke="#d8101a" stroke-width="0.95" stroke-linecap="round"/><path d="M495.47,39.73 L493.54,42.37" fill="none" stroke="#d8101a" stroke-width="1.35" stroke-linecap="round"/>
<path d="M518.36,35.94 Q521.53,37.22 523.29,41.84 M523.64,35.77 Q521.35,36.96 518.36,42.54" fill="none" stroke="#d8101a" stroke-width="0.95" stroke-linecap="round"/><path d="M520.47,39.73 L518.54,42.37" fill="none" stroke="#d8101a" stroke-width="1.35" stroke-linecap="round"/>
<path d="M386.7,159.9 H541.8" stroke="#111" stroke-width="1.1"/>
<text x="387.3" y="168.1" text-anchor="middle" font-family="Liberation Serif, serif" font-size="5.4" font-weight="bold" fill="#000" stroke="#000" stroke-width="0.12">0.1</text>
<text x="417.85" y="168.1" text-anchor="middle" font-family="Liberation Serif, serif" font-size="5.4" font-weight="bold" fill="#000" stroke="#000" stroke-width="0.12">1.1</text>
<text x="448.4" y="168.1" text-anchor="middle" font-family="Liberation Serif, serif" font-size="5.4" font-weight="bold" fill="#000" stroke="#000" stroke-width="0.12">2.1</text>
<text x="478.95" y="168.1" text-anchor="middle" font-family="Liberation Serif, serif" font-size="5.4" font-weight="bold" fill="#000" stroke="#000" stroke-width="0.12">3.1</text>
<text x="509.5" y="168.1" text-anchor="middle" font-family="Liberation Serif, serif" font-size="5.4" font-weight="bold" fill="#000" stroke="#000" stroke-width="0.12">4.1</text>
<text x="540.05" y="168.1" text-anchor="middle" font-family="Liberation Serif, serif" font-size="5.4" font-weight="bold" fill="#000" stroke="#000" stroke-width="0.12">5.1</text>
<polyline points="387.3,160 388.2,162.5 389.4,154 390.4,171 391.3,158 392.2,174 393.1,160 393.9,152.45 394.7,178.14 395.54,156.13 396.46,170.69 397.2,150.37 397.83,182.6 398.82,157.25 399.44,172.7 400.09,158.06 400.88,171.99 401.82,151.53 402.7,170.86 403.42,149.5 405,142 406.61,162.96 407.59,140.41 408.21,164.46 409.2,146.03 409.85,160.86 410.51,146.84 411.49,160.43 412.15,156.61 413.07,170.92 414.4,199.2 415.33,154.74 416.03,179.16 416.76,148.94 417.46,175.16 418.12,147.33 418.82,170.54 419.56,159.08 420.21,175.24 420.97,153.42 421.96,178.51 422.65,156.11 423.61,166.73 424.51,145.94 425.21,175.33 425.99,157.59 426.62,177.22 427.34,149.09 428.19,177.2 428.83,156.92 429.66,170.04 431.1,128 432.12,159.03 432.81,166.36 433.56,148.72 434.56,174.61 435.23,157.5 435.86,181.45 436.49,150.42 437.29,181.27 437.94,150.67 438.84,176.35 440.5,140 441.69,147.22 442.47,173.87 443.32,152.04 444.17,173.04 445.16,145.3 446.06,170.64 446.85,145.65 447.5,171.95 448.3,153.03 449.19,176.23 449.91,154.54 450.64,162.47 451.6,145.63 452.39,171.48 453.09,148.61 454.01,167.51 454.85,150.68 455.53,173.28 456.42,141.16 457.14,163.47 457.84,149.2 458.9,134.1 460.63,158.85 461.58,152.87 463,188 464.02,159.1 464.96,151.43 465.63,168.65 466.49,147.79 467.42,165.89 468.22,154.71 468.84,163.77 469.57,151.47 470.45,173.17 472,141 473.12,145.48 473.78,174.68 474.55,146.55 475.5,167.64 476.37,150.44 477.26,171.45 477.96,141.75 478.96,173.34 479.7,142.57 480.64,166.67 481.47,144.43 482.28,161.8 483.2,153.78 483.95,163.73 484.77,146.53 485.71,168.63 486.69,151.92 488,136.8 489.15,168.08 489.89,148.23 490.83,173.81 491.82,146.59 492.66,167.53 493.51,154.19 494.49,173.05 495.33,147.4 496.21,167.02 497.19,143.47 497.92,167.36 498.85,143.38 500,189.7 501.47,161.41 502.17,154.3 503.05,172.93 503.71,148.39 504.37,165.41 505.2,151.34 505.96,163.73 506.66,148.54 507.52,170.71 508.47,151.47 509.37,165.78 510.11,141.76 510.81,162.59 511.52,146.07 512.24,169.14 513.16,155.95 513.93,166.07 514.81,145.91 515.7,135.5 516.71,172.86 517.59,157.61 519,184.7 520.42,181.3 521.39,158.81 522.03,178.76 522.78,153.86 523.59,163.83 524.48,148.56 525.17,169.99 525.86,156.06 526.68,179.43 527.57,149.24 528.42,173.07 530,141 531.25,150.28 532.18,179.25 533.06,149.89 533.97,164.56 534.72,153.23 535.34,174.53 536.05,147.5 536.93,173.87 537.75,154.87" fill="none" stroke="#1c1cff" stroke-width="0.95" stroke-linejoin="round" />
<path d="M410.56,124.54 Q413.73,125.82 415.49,130.44 M415.84,124.37 Q413.55,125.56 410.56,131.14" fill="none" stroke="#d8101a" stroke-width="0.95" stroke-linecap="round"/><path d="M412.67,128.33 L410.74,130.97" fill="none" stroke="#d8101a" stroke-width="1.35" stroke-linecap="round"/>
<path d="M440.26,124.54 Q443.43,125.82 445.19,130.44 M445.54,124.37 Q443.25,125.56 440.26,131.14" fill="none" stroke="#d8101a" stroke-width="0.95" stroke-linecap="round"/><path d="M442.37,128.33 L440.44,130.97" fill="none" stroke="#d8101a" stroke-width="1.35" stroke-linecap="round"/>
<path d="M463.66,124.54 Q466.83,125.82 468.59,130.44 M468.94,124.37 Q466.65,125.56 463.66,131.14" fill="none" stroke="#d8101a" stroke-width="0.95" stroke-linecap="round"/><path d="M465.77,128.33 L463.84,130.97" fill="none" stroke="#d8101a" stroke-width="1.35" stroke-linecap="round"/>
<path d="M493.56,124.54 Q496.73,125.82 498.49,130.44 M498.84,124.37 Q496.55,125.56 493.56,131.14" fill="none" stroke="#d8101a" stroke-width="0.95" stroke-linecap="round"/><path d="M495.67,128.33 L493.74,130.97" fill="none" stroke="#d8101a" stroke-width="1.35" stroke-linecap="round"/>
<path d="M518.76,124.54 Q521.93,125.82 523.69,130.44 M524.04,124.37 Q521.75,125.56 518.76,131.14" fill="none" stroke="#d8101a" stroke-width="0.95" stroke-linecap="round"/><path d="M520.87,128.33 L518.94,130.97" fill="none" stroke="#d8101a" stroke-width="1.35" stroke-linecap="round"/>
<text transform="translate(368.1,56.2) rotate(-90)" text-anchor="middle" dominant-baseline="central" font-family="Liberation Sans, sans-serif" font-size="10.1" font-weight="bold" fill="#000" textLength="21" lengthAdjust="spacingAndGlyphs">ECG</text>
<text transform="translate(368.9,166) rotate(-90)" text-anchor="middle" dominant-baseline="central" font-family="Liberation Sans, sans-serif" font-size="10.1" font-weight="bold" fill="#000" textLength="21" lengthAdjust="spacingAndGlyphs">SCG</text>
<text x="31.4" y="231.7" font-family="Liberation Sans, sans-serif" font-size="10.4" font-weight="bold" fill="#111" stroke="#111" stroke-width="0.2" textLength="139.1" lengthAdjust="spacingAndGlyphs">(a). ECG / SCG Normal morphology</text>
<text x="81.8" y="245.4" font-family="Liberation Sans, sans-serif" font-size="10.4" font-weight="bold" fill="#111" stroke="#111" stroke-width="0.2" textLength="37.7" lengthAdjust="spacingAndGlyphs">detection</text>
<text x="227.8" y="231.7" font-family="Liberation Sans, sans-serif" font-size="10.4" font-weight="bold" fill="#111" stroke="#111" stroke-width="0.2" textLength="125.8" lengthAdjust="spacingAndGlyphs">(b). ECG Abnormal, SCG Normal</text>
<text x="247" y="245.4" font-family="Liberation Sans, sans-serif" font-size="10.4" font-weight="bold" fill="#111" stroke="#111" stroke-width="0.2" textLength="89" lengthAdjust="spacingAndGlyphs">morphology detection</text>
<text x="390.8" y="231.7" font-family="Liberation Sans, sans-serif" font-size="10.4" font-weight="bold" fill="#111" stroke="#111" stroke-width="0.2" textLength="146.9" lengthAdjust="spacingAndGlyphs">(c). ECG / SCG Abnormal morphology</text>
<text x="446.5" y="245.4" font-family="Liberation Sans, sans-serif" font-size="10.4" font-weight="bold" fill="#111" stroke="#111" stroke-width="0.2" textLength="36.5" lengthAdjust="spacingAndGlyphs">detection</text>
</svg></body></html>
